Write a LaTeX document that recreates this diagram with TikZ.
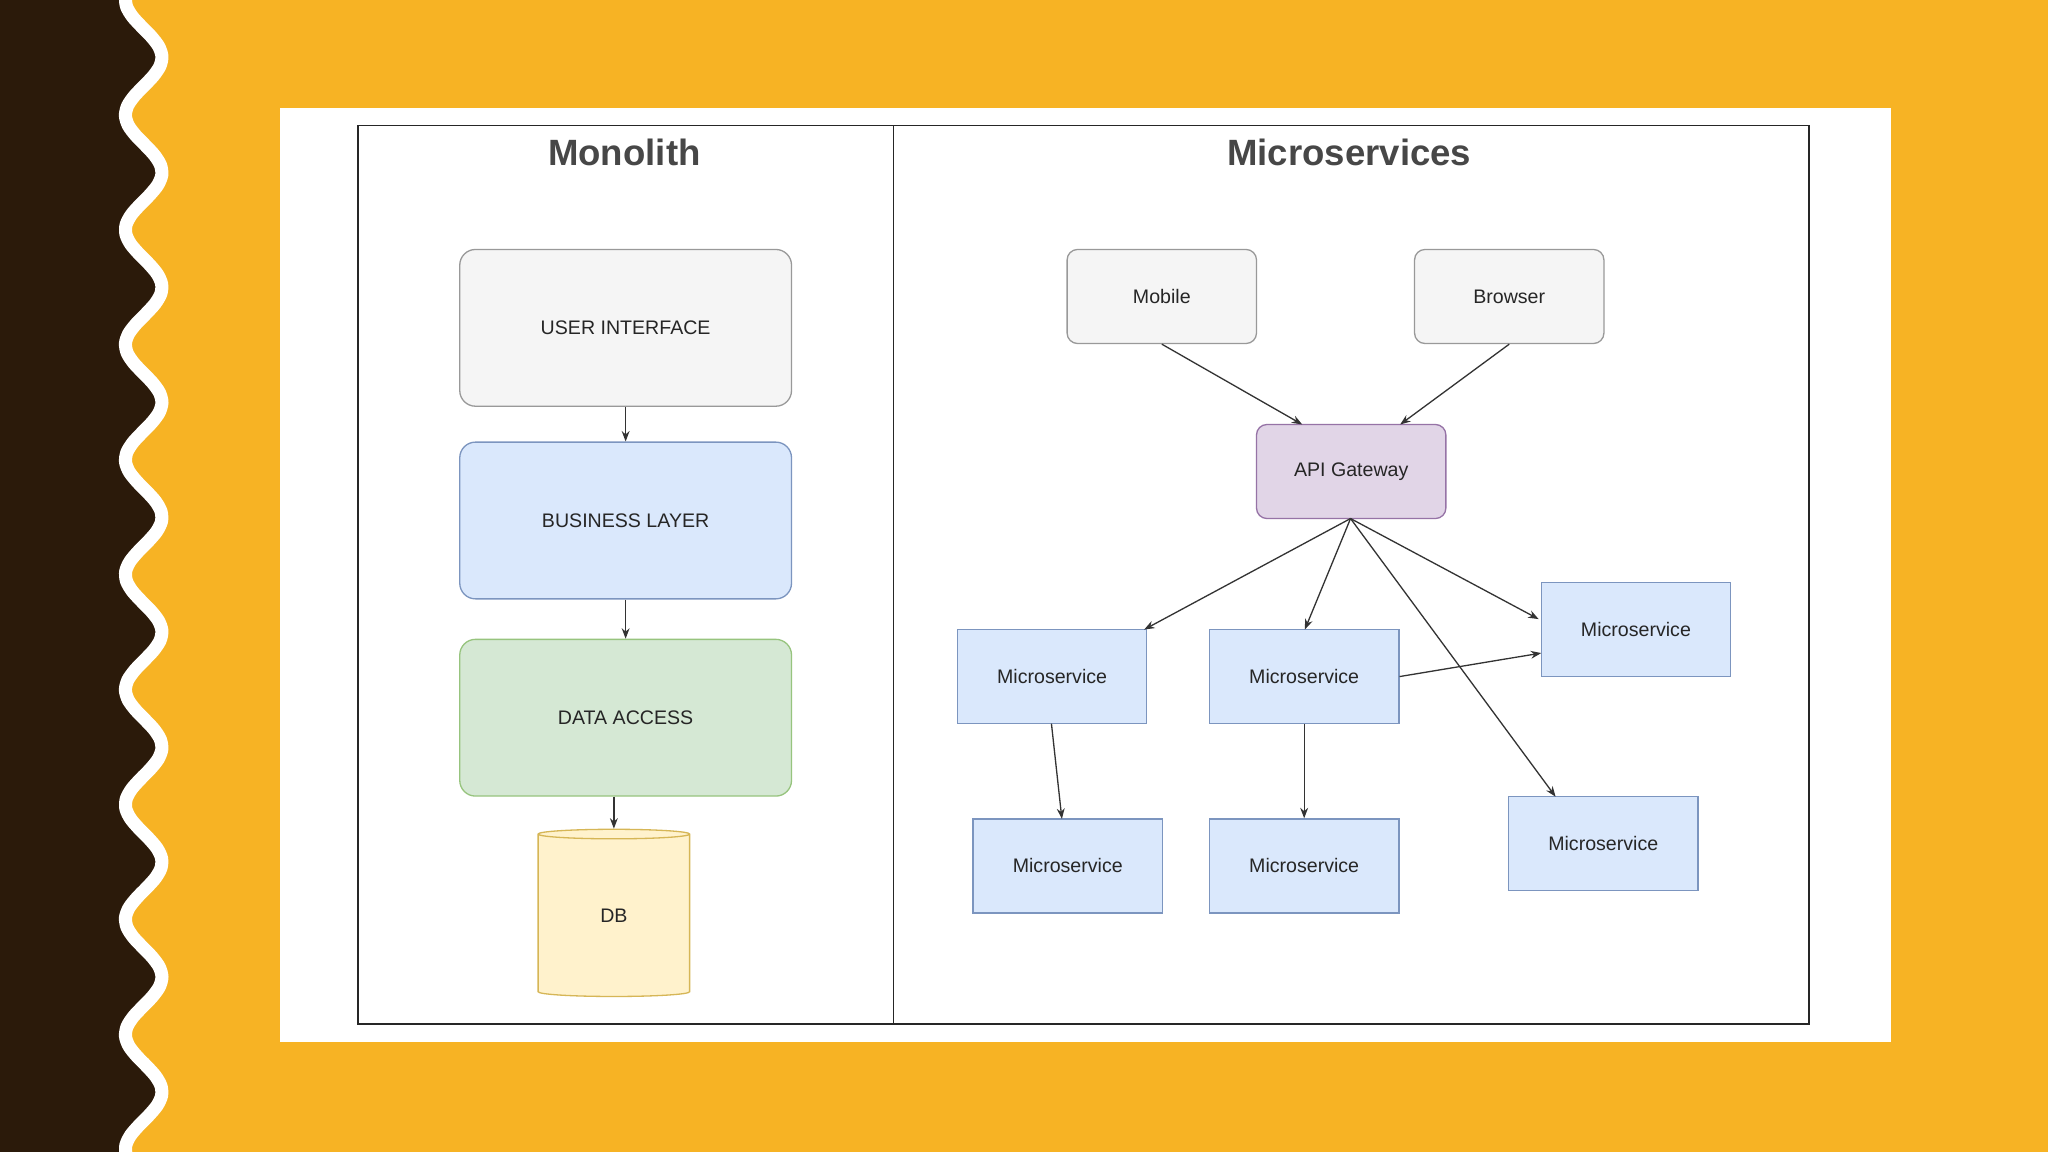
\documentclass[tikz,border=0pt]{standalone}
\usepackage{fontspec}
\setmainfont{Liberation Sans}
\usetikzlibrary{shapes.geometric,arrows.meta}
\definecolor{bgor}{HTML}{F7B324}
\definecolor{brn}{HTML}{2B1A0A}
\definecolor{dbd}{HTML}{D6B656}
\definecolor{dbf}{HTML}{FFF2CC}
\definecolor{gwd}{HTML}{9673A6}
\definecolor{gwf}{HTML}{E1D5E7}
\definecolor{daf}{HTML}{D5E8D4}
\definecolor{dad}{HTML}{97C47E}
\definecolor{blf}{HTML}{DAE8FC}
\definecolor{bld}{HTML}{7C95BF}
\begin{document}
\begin{tikzpicture}[x=1pt,y=-1pt,
  box/.style={draw=#1,line width=1pt,inner sep=0pt,font=\fontsize{15}{18}\selectfont,text=black!85},
  rbox/.style={box=#1,rounded corners=12pt,minimum width=254pt,minimum height=120pt},
  sbox/.style={box=#1,rounded corners=8pt,minimum width=145pt,minimum height=72pt},
  ms/.style={box=#1,minimum width=145pt,minimum height=72pt,fill=blf},
  arr/.style={-{Stealth[length=8pt,width=6pt]},line width=1pt,draw=black!80},
  ttl/.style={font=\bfseries\fontsize{28}{32}\selectfont,text=black!72}]
\useasboundingbox (0,0) rectangle (1568,882);
\fill[bgor] (0,0) rectangle (1568,882);
\fill[brn] (0,0) -- plot[smooth,domain=0:882,samples=120] ({110-14*cos(\x*4.0909)},\x) -- (0,882) -- cycle;
\draw[white,line width=10pt] plot[smooth,domain=-10:892,samples=120] ({110-14*cos(\x*4.0909)},\x);
\fill[white] (214,83) rectangle (1448,798);
\draw[black!85,line width=1pt] (274,96) rectangle (1385,784);
\draw[black!85,line width=1pt] (684,96) -- (684,784);
\node[ttl] (t1) at (478,117) {Monolith};
\node[ttl] (t2) at (1033,117) {Microservices};
\node[rbox=black!40,fill=black!4] (ui) at (479,251) {USER INTERFACE};
\node[rbox=bld,fill=blf] (bl) at (479,398.5) {BUSINESS LAYER};
\node[rbox=dad,fill=daf] (da) at (479,549.5) {DATA ACCESS};
\node[box=dbd,fill=dbf,cylinder,shape border rotate=90,aspect=0.35,minimum width=116pt,minimum height=128pt] (db) at (470,701) {DB};
\draw[arr] (ui) -- (bl);
\draw[arr] (bl) -- (da);
\draw[arr] (470,610) -- (db.top);
\node[sbox=black!40,fill=black!4] (mob) at (889.5,227) {Mobile};
\node[sbox=black!40,fill=black!4] (brw) at (1155.5,227) {Browser};
\node[sbox=gwd,fill=gwf] (gw) at (1034.5,361) {API Gateway};
\node[ms=bld] (a) at (805.5,518) {Microservice};
\node[ms=bld] (b) at (998.5,518) {Microservice};
\node[ms=bld] (c) at (1252.5,482) {Microservice};
\node[ms=bld] (d) at (817.5,663) {Microservice};
\node[ms=bld] (e) at (998.5,663) {Microservice};
\node[ms=bld] (f) at (1227.5,646) {Microservice};
\draw[arr] (mob.south) -- (997,325);
\draw[arr] (brw.south) -- (1072,325);
\coordinate (g) at (1034,397);
\draw[arr] (g) -- (876,482);
\draw[arr] (g) -- (999,482);
\draw[arr] (g) -- (1178,474);
\draw[arr] (g) -- (1191,610);
\draw[arr] (b.east) -- (1180,500);
\draw[arr] (805,554) -- (813,627);
\draw[arr] (b.south) -- (e.north);
\end{tikzpicture}
\end{document}
